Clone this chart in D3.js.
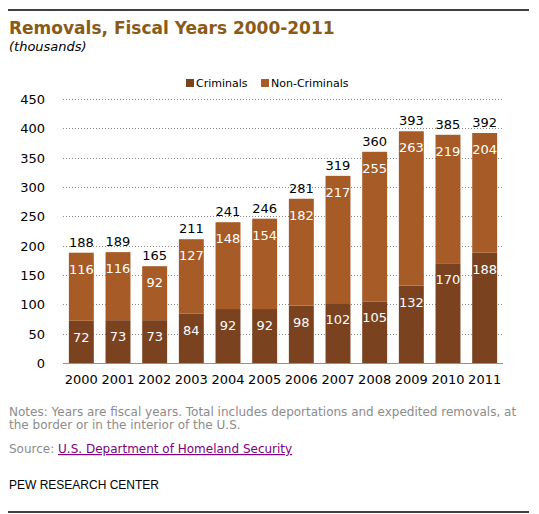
<!DOCTYPE html>
<html>
<head>
<meta charset="utf-8">
<script src="https://cdn.jsdelivr.net/npm/d3@7"></script>
<style>
  body { margin: 0; background: #fff; }
  text { font-family: "DejaVu Sans", Verdana, sans-serif; }
</style>
</head>
<body>
<div id="chart"></div>
<script>
// data
var years = ["2000","2001","2002","2003","2004","2005","2006","2007","2008","2009","2010","2011"];
var criminals = [72, 73, 73, 84, 92, 92, 98, 102, 105, 132, 170, 188];
var nonCriminals = [116, 116, 92, 127, 148, 154, 182, 217, 255, 263, 219, 204];
var totals = [188, 189, 165, 211, 241, 246, 281, 319, 360, 393, 385, 392];
var yTicks = [0, 50, 100, 150, 200, 250, 300, 350, 400, 450];
var seriesNames = ["Criminals", "Non-Criminals"];

var W = 539, H = 514;
var colors = {"Criminals": "#7b4220", "Non-Criminals": "#a75c27"};

var svg = d3.select("#chart").append("svg")
    .attr("width", W)
    .attr("height", H);

// top and bottom rules
svg.append("line").attr("x1", 8).attr("x2", 529).attr("y1", 10).attr("y2", 10)
    .attr("stroke", "#000").attr("stroke-width", 1.5);
svg.append("line").attr("x1", 8).attr("x2", 529).attr("y1", 512).attr("y2", 512)
    .attr("stroke", "#000").attr("stroke-width", 1.5);

// titles
svg.append("text").attr("x", 9).attr("y", 34)
    .style("font-size", "17px").style("font-weight", "bold")
    .attr("fill", "#8a5a18")
    .text("Removals, Fiscal Years 2000-2011");
svg.append("text").attr("x", 9).attr("y", 51)
    .style("font-size", "13px").style("font-style", "italic")
    .attr("fill", "#000")
    .text("(thousands)");

// scales
var x = d3.scaleBand()
    .domain(years)
    .range([63, 503])
    .paddingInner(0.32)
    .paddingOuter(0.16);

var y = d3.scaleLinear()
    .domain([0, 450])
    .range([363, 99]);

// gridlines
svg.append("g").selectAll("line")
    .data(yTicks.filter(function(d) { return d > 0; }))
    .enter().append("line")
    .attr("x1", 63).attr("x2", 503)
    .attr("y1", function(d) { return Math.round(y(d)) + 0.5; })
    .attr("y2", function(d) { return Math.round(y(d)) + 0.5; })
    .attr("stroke", "#888")
    .attr("stroke-dasharray", "1,2");

// y tick labels
svg.append("g").selectAll("text")
    .data(yTicks)
    .enter().append("text")
    .attr("x", 45)
    .attr("y", function(d) { return y(d) + 5; })
    .attr("text-anchor", "end")
    .style("font-size", "13px")
    .attr("fill", "#000")
    .text(function(d) { return d; });

// stacked data
var table = years.map(function(yr, i) {
  return {year: yr, "Criminals": criminals[i], "Non-Criminals": nonCriminals[i], total: totals[i]};
});
var stack = d3.stack().keys(seriesNames)(table);

var layers = svg.append("g").selectAll("g")
    .data(stack)
    .enter().append("g")
    .attr("fill", function(d) { return colors[d.key]; });

layers.selectAll("rect")
    .data(function(d) { return d; })
    .enter().append("rect")
    .attr("x", function(d) { return x(d.data.year); })
    .attr("width", x.bandwidth())
    .attr("y", function(d) { return y(d[1]); })
    .attr("height", function(d) { return y(d[0]) - y(d[1]); });

// segment labels
layers.selectAll("text")
    .data(function(d) { return d.map(function(p) { p.key = d.key; return p; }); })
    .enter().append("text")
    .attr("x", function(d) { return x(d.data.year) + x.bandwidth() / 2; })
    .attr("y", function(d) { return y(d[1]) + 21; })
    .attr("text-anchor", "middle")
    .style("font-size", "13px")
    .attr("fill", "#fff")
    .text(function(d) { return d.data[d.key]; });

// total labels
svg.append("g").selectAll("text")
    .data(table)
    .enter().append("text")
    .attr("x", function(d) { return x(d.year) + x.bandwidth() / 2; })
    .attr("y", function(d) { return y(d["Criminals"] + d["Non-Criminals"]) - 6; })
    .attr("text-anchor", "middle")
    .style("font-size", "13px")
    .attr("fill", "#000")
    .text(function(d) { return d.total; });

// baseline
svg.append("line").attr("x1", 63).attr("x2", 503).attr("y1", 363.5).attr("y2", 363.5)
    .attr("stroke", "#9a9a5a").attr("stroke-width", 1);

// x axis labels
var xAxis = svg.append("g")
    .attr("transform", "translate(0,372)")
    .call(d3.axisBottom(x).tickSize(0).tickPadding(0));
xAxis.select(".domain").remove();
xAxis.selectAll("text")
    .style("font-size", "13px")
    .attr("fill", "#000")
    .attr("dy", "0.9em");

// legend
var legendX = [186, 261];
var legend = svg.append("g").selectAll("g")
    .data(seriesNames)
    .enter().append("g")
    .attr("transform", function(d, i) { return "translate(" + legendX[i] + ",79)"; });
legend.append("rect")
    .attr("width", 8).attr("height", 8)
    .attr("fill", function(d) { return colors[d]; });
legend.append("text")
    .attr("x", 10).attr("y", 8)
    .style("font-size", "11px")
    .attr("fill", "#000")
    .text(function(d) { return d; });

// notes
var notes = svg.append("g").style("font-size", "12px").attr("fill", "#8c8c8c");
notes.append("text").attr("x", 9).attr("y", 416)
    .text("Notes: Years are fiscal years. Total includes deportations and expedited removals, at");
notes.append("text").attr("x", 9).attr("y", 429)
    .text("the border or in the interior of the U.S.");
var src = notes.append("text").attr("x", 9).attr("y", 453);
src.append("tspan").text("Source: ");
src.append("tspan").attr("fill", "#800080").style("text-decoration", "underline")
    .text("U.S. Department of Homeland Security");

svg.append("text").attr("x", 9).attr("y", 489)
    .style("font-size", "12px")
    .style("font-family", "'Liberation Sans', Arial, sans-serif")
    .attr("fill", "#000")
    .text("PEW RESEARCH CENTER");
</script>
</body>
</html>
